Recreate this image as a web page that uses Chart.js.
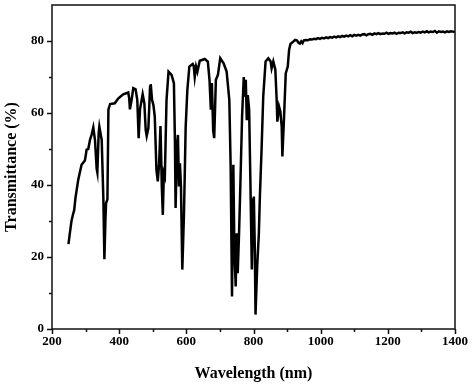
<!DOCTYPE html>
<html>
<head>
<meta charset="utf-8">
<script src="https://cdn.jsdelivr.net/npm/chart.js@4.4.1/dist/chart.umd.min.js"></script>
<style>
  html, body { margin: 0; padding: 0; background: #fff; }
  #wrap { width: 474px; height: 387px; position: relative; }
</style>
</head>
<body>
<div id="wrap"><canvas id="spectrum-chart"></canvas></div>
<script>
// wavelength (nm) and transmittance (%)
var wavelength = [
  249, 253, 258, 263, 266, 270, 278, 288, 298, 301, 303, 308, 313, 318, 323, 328, 333, 335, 339, 341,
  348, 353, 356, 359, 361, 365, 368, 373, 387, 397, 412, 427, 430, 432, 437, 442, 449, 454, 458, 462,
  470, 475, 479, 482, 487, 492, 494, 498, 502, 506, 511, 515, 519, 523, 527, 530, 533, 536, 541, 547,
  556, 563, 566, 568, 572, 575, 578, 581, 584, 588, 593, 598, 603, 609, 619, 622, 625, 629, 633, 640,
  655, 664, 669, 673, 676, 680, 683, 688, 694, 701, 711, 720, 728, 732, 736, 740, 743, 747, 750, 753,
  757, 761, 766, 771, 774, 777, 780, 783, 787, 791, 795, 799, 801, 804, 806, 811, 816, 819, 824, 829,
  836, 844, 851, 854, 859, 865, 869, 871, 876, 880, 884, 886, 891, 896, 902, 906, 910, 918, 924, 930,
  934, 938, 942, 946, 950, 956, 962, 968, 974, 980, 986, 992, 998, 1004, 1010, 1016, 1022, 1028, 1034, 1040,
  1046, 1052, 1058, 1064, 1070, 1076, 1082, 1088, 1094, 1100, 1106, 1112, 1118, 1124, 1130, 1136, 1142, 1148, 1154, 1160,
  1166, 1172, 1178, 1184, 1190, 1196, 1202, 1208, 1214, 1220, 1226, 1232, 1238, 1244, 1250, 1256, 1262, 1268, 1274, 1280,
  1286, 1292, 1298, 1304, 1310, 1316, 1322, 1328, 1334, 1340, 1346, 1352, 1358, 1364, 1370, 1376, 1382, 1388, 1394, 1400
];
var transmittance = [
  23.6, 26.5, 30.0, 32.0, 33.0, 36.5, 41.4, 45.6, 46.8, 48.5, 49.8, 50.0, 52.5, 54.0, 56.0, 52.5, 44.5, 43.5, 54.5, 56.2,
  52.5, 36.0, 19.4, 30.0, 35.0, 36.0, 61.0, 62.5, 62.7, 64.0, 65.2, 65.7, 64.0, 61.0, 63.6, 66.9, 66.6, 63.6, 53.0, 61.0,
  65.2, 62.7, 55.3, 53.6, 55.8, 67.3, 68.0, 63.6, 62.2, 59.0, 44.2, 41.0, 46.0, 56.4, 39.6, 31.7, 43.3, 42.4, 63.6, 71.5,
  70.6, 68.3, 52.5, 33.6, 50.7, 53.9, 39.6, 46.0, 39.6, 16.5, 32.0, 56.0, 66.4, 72.9, 73.6, 73.0, 70.0, 72.9, 71.5, 74.5,
  75.0, 74.3, 69.2, 60.9, 68.3, 55.0, 53.0, 69.2, 70.6, 75.2, 73.8, 71.5, 63.6, 45.0, 9.0, 45.6, 22.0, 11.8, 26.6, 15.5,
  26.6, 40.5, 59.0, 70.0, 64.5, 69.2, 58.0, 65.0, 60.9, 39.6, 16.5, 36.0, 36.8, 22.0, 4.0, 17.4, 26.6, 36.8, 49.8, 64.6,
  74.3, 75.2, 74.3, 72.4, 74.3, 72.0, 63.6, 57.6, 61.8, 60.4, 56.2, 47.9, 59.0, 71.0, 72.9, 77.5, 79.2, 79.8, 80.3, 80.1,
  79.5, 79.3, 79.9, 79.4, 80.2, 80.3, 80.2, 80.5, 80.4, 80.6, 80.5, 80.8, 80.6, 80.9, 80.7, 81.0, 80.8, 81.1, 80.9, 81.2,
  81.0, 81.3, 81.1, 81.4, 81.2, 81.5, 81.3, 81.6, 81.3, 81.7, 81.5, 81.7, 81.5, 81.8, 81.9, 81.6, 81.9, 82.0, 81.7, 82.1,
  81.9, 82.2, 81.9, 82.1, 82.0, 82.3, 82.0, 82.2, 82.1, 82.3, 82.0, 82.3, 82.2, 82.4, 82.1, 82.4, 82.3, 82.6, 82.2, 82.4,
  82.3, 82.5, 82.3, 82.6, 82.4, 82.7, 82.4, 82.6, 82.5, 82.8, 82.3, 82.7, 82.5, 82.6, 82.4, 82.7, 82.5, 82.7, 82.6, 82.5
];
var xTickValues = [200, 400, 600, 800, 1000, 1200, 1400];
var yTickValues = [0, 20, 40, 60, 80];

var points = wavelength.map(function (w, i) { return { x: w, y: transmittance[i] }; });

// frame around plot + outward major/minor ticks
var frameTicks = {
  id: 'frameTicks',
  afterDraw: function (chart) {
    var ctx = chart.ctx;
    var a = chart.chartArea;
    var xs = chart.scales.x, ys = chart.scales.y;
    ctx.save();
    ctx.strokeStyle = '#111';
    ctx.lineWidth = 1.5;
    ctx.strokeRect(a.left, a.top, a.right - a.left, a.bottom - a.top);
    ctx.beginPath();
    for (var v = 200; v <= 1400; v += 100) {
      var px = Math.round(xs.getPixelForValue(v)) + 0.5;
      var len = (v % 200 === 0) ? 5 : 3;
      ctx.moveTo(px, a.bottom);
      ctx.lineTo(px, a.bottom + len);
    }
    for (var t = 0; t <= 80; t += 10) {
      var py = Math.round(ys.getPixelForValue(t)) + 0.5;
      var l = (t % 20 === 0) ? 5 : 3;
      ctx.moveTo(a.left, py);
      ctx.lineTo(a.left - l, py);
    }
    ctx.stroke();
    ctx.restore();
  }
};

var serif = "'Liberation Serif', 'Times New Roman', serif";

new Chart(document.getElementById('spectrum-chart'), {
  type: 'line',
  data: {
    datasets: [{
      data: points,
      borderColor: '#000',
      borderWidth: 2.5,
      pointRadius: 0,
      tension: 0,
      fill: false
    }]
  },
  options: {
    responsive: true,
    maintainAspectRatio: false,
    animation: false,
    layout: { padding: { top: 5, right: 19, left: 0, bottom: 0 } },
    plugins: {
      legend: { display: false },
      tooltip: { enabled: false }
    },
    scales: {
      x: {
        type: 'linear',
        min: 200,
        max: 1400,
        afterFit: function (scale) {
          scale.height = 58;
          scale.paddingLeft = 0;
          scale.paddingRight = 0;
        },
        afterBuildTicks: function (scale) {
          scale.ticks = xTickValues.map(function (v) { return { value: v }; });
        },
        grid: { display: false, drawTicks: false },
        border: { display: false },
        ticks: {
          color: '#000',
          padding: 5,
          maxRotation: 0,
          callback: function (value) { return String(value); },
          font: { family: serif, size: 13, weight: 'bold' }
        },
        title: {
          display: true,
          text: 'Wavelength (nm)',
          color: '#000',
          padding: { top: 4, bottom: 4 },
          font: { family: serif, size: 16, weight: 'bold' }
        }
      },
      y: {
        min: 0,
        max: 90,
        afterFit: function (scale) {
          scale.width = 52;
          scale.paddingTop = 0;
          scale.paddingBottom = 0;
        },
        afterBuildTicks: function (scale) {
          scale.ticks = yTickValues.map(function (v) { return { value: v }; });
        },
        grid: { display: false, drawTicks: false },
        border: { display: false },
        ticks: {
          color: '#000',
          padding: 8,
          callback: function (value) { return String(value); },
          font: { family: serif, size: 13, weight: 'bold' }
        },
        title: {
          display: true,
          text: 'Transmittance (%)',
          color: '#000',
          padding: { top: 2, bottom: 2 },
          font: { family: serif, size: 16, weight: 'bold' }
        }
      }
    }
  },
  plugins: [frameTicks]
});
</script>
</body>
</html>
